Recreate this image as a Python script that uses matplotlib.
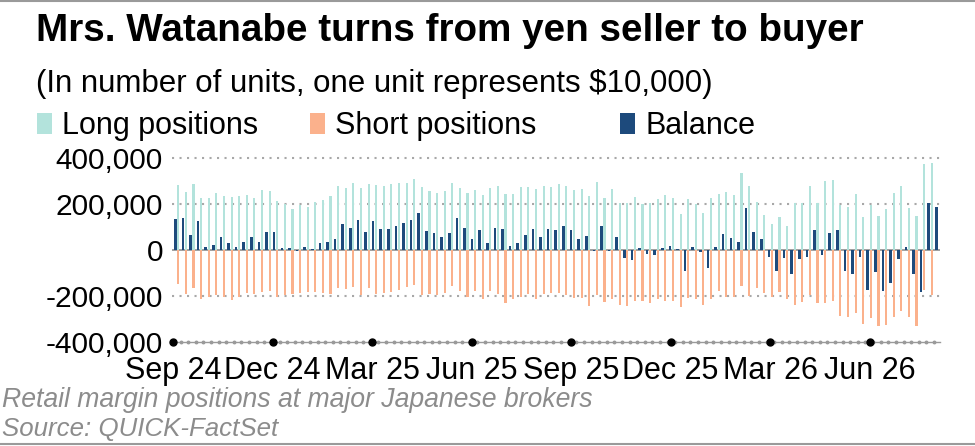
import numpy as np
import matplotlib
matplotlib.use("Agg")
import matplotlib.pyplot as plt
from matplotlib.patches import Rectangle
from matplotlib.lines import Line2D

# ---------- DATA (thousands of units, weekly) ----------
long_k = [280, 284, 252, 288, 225, 228, 249, 233, 229, 236, 239, 225, 261, 255, 213, 200, 178,
          196, 188, 210, 217, 236, 278, 268, 290, 268, 287, 281, 278, 287, 290, 293, 307, 272,
          258, 249, 258, 290, 268, 246, 261, 238, 271, 280, 243, 243, 272, 275, 264, 280, 272,
          287, 277, 259, 267, 235, 297, 224, 267, 203, 203, 229, 200, 206, 223, 238, 225, 155,
          223, 200, 162, 225, 245, 254, 239, 336, 278, 210, 152, 113, 145, 103, 203, 203, 280,
          203, 300, 304, 196, 185, 243, 145, 194, 149, 180, 246, 278, 181, 149, 372, 380]
short_k = [-148, -148, -191, -165, -214, -206, -194, -203, -216, -203, -188, -193, -183, -180, -206, -196, -190,
           -185, -181, -181, -185, -191, -167, -171, -159, -194, -164, -191, -188, -181, -174, -162, -152, -194,
           -191, -197, -188, -155, -177, -206, -178, -212, -177, -191, -229, -214, -206, -191, -212, -193, -186,
           -186, -194, -209, -209, -243, -194, -228, -212, -241, -243, -223, -220, -229, -212, -220, -220, -246,
           -209, -214, -241, -212, -180, -206, -203, -156, -200, -165, -188, -203, -183, -212, -238, -226, -197,
           -229, -229, -220, -287, -290, -275, -322, -294, -329, -326, -290, -267, -290, -330, -174, -197]
balance_k = [135, 141, 64, 125, 13, 23, 58, 29, 13, 36, 55, 35, 80, 78, 9, 7, -6,
             13, 6, 32, 36, 49, 114, 96, 130, 77, 125, 90, 91, 106, 117, 132, 162, 83,
             74, 58, 74, 139, 96, 46, 86, 30, 97, 91, 17, 30, 67, 90, 55, 90, 88,
             104, 85, 49, 62, -5, 106, -3, 58, -36, -43, 7, -17, -23, 10, 19, 6, -90,
             14, -9, -78, 14, 68, 51, 35, 181, 80, 46, -32, -90, -36, -104, -39, -29, 85,
             -23, 75, 85, -90, -104, -29, -174, -96, -177, -142, -41, 14, -104, -181, 203, 185]
tick_labels = ["Sep 24", "Dec 24", "Mar 25", "Jun 25", "Sep 25", "Dec 25", "Mar 26", "Jun 26"]
y_ticks = [-400000, -200000, 0, 200000, 400000]

# ---------- STYLE ----------
W, H, DPI = 975, 446, 100
LONG_C, SHORT_C, BAL_C = "#b3e3dc", "#fbb18c", "#1d4a7c"
GRID_C = "#a8a8a8"
NOTE_C = "#8c8c8c"
TICK_STEP = 13.08  # weeks between quarterly labels

plt.rcParams["font.family"] = ["Liberation Sans", "DejaVu Sans"]


def px(x, y):
    """pixel (from top-left) -> figure fraction"""
    return x / W, 1 - y / H


def main():
    long_v = np.array(long_k) * 1000
    short_v = np.array(short_k) * 1000
    bal_v = np.array(balance_k) * 1000
    x = np.arange(len(long_v))

    fig = plt.figure(figsize=(W / DPI, H / DPI), dpi=DPI)
    ax = fig.add_axes([172 / W, 104 / H, (940 - 172) / W, (288 - 104) / H])

    # grid + zero line
    for yv in (400000, 200000, -200000):
        ax.axhline(yv, color=GRID_C, lw=1.5, ls=(0, (1, 2.6)), zorder=0, clip_on=False)
    ax.axhline(0, color="#8f8f8f", lw=1.2, zorder=1)

    ax.bar(x - 0.3, long_v, width=0.28, color=LONG_C, zorder=2)
    ax.bar(x - 0.3, short_v, width=0.28, color=SHORT_C, zorder=2)
    ax.bar(x + 0.3, bal_v, width=0.34, color=BAL_C, zorder=3)

    # bottom axis with weekly dots and quarterly black dots
    ax.axhline(-400000, color="#9a9a9a", lw=1.0, zorder=1, clip_on=False)
    ax.plot(x, np.full(len(x), -400000), "o", ms=1.8, color="#9a9a9a", clip_on=False, zorder=2)
    ticks = np.arange(len(tick_labels)) * TICK_STEP
    ax.plot(ticks, np.full(len(ticks), -400000), "o", ms=5, color="black", clip_on=False, zorder=4)

    ax.set_xlim(-0.13, -0.13 + 768 / 7.61)
    ax.set_ylim(-400000, 400000)
    ax.set_xticks(ticks)
    ax.set_xticklabels(tick_labels, fontsize=22)
    ax.set_yticks(y_ticks)
    ax.set_yticklabels([f"{v:,}" for v in y_ticks], fontsize=21.5)
    ax.tick_params(axis="both", length=0, colors="black")
    ax.tick_params(axis="y", pad=6.5)
    ax.tick_params(axis="x", pad=10)
    for s in ax.spines.values():
        s.set_visible(False)
    ax.set_facecolor("none")

    # titles
    fig.text(*px(36, 41), "Mrs. Watanabe turns from yen seller to buyer",
             fontsize=27.8, fontweight="bold", va="baseline", ha="left")
    fig.text(*px(36, 92), "(In number of units, one unit represents $10,000)",
             fontsize=22.5, va="baseline", ha="left")

    # legend
    items = [(37, "Long positions", LONG_C), (310, "Short positions", SHORT_C), (620, "Balance", BAL_C)]
    for lx, label, col in items:
        x0, y0 = px(lx, 134)
        fig.patches.append(Rectangle((x0, y0), 15 / W, 21 / H, transform=fig.transFigure,
                                     facecolor=col, edgecolor="none"))
        fig.text(*px(lx + 25, 134), label, fontsize=22, va="baseline", ha="left")

    # notes
    fig.text(*px(2, 407), "Retail margin positions at major Japanese brokers",
             fontsize=19.2, style="italic", color=NOTE_C, va="baseline", ha="left")
    fig.text(*px(2, 436), "Source: QUICK-FactSet",
             fontsize=18.6, style="italic", color=NOTE_C, va="baseline", ha="left")

    # frame lines top and bottom
    fig.lines.append(Line2D([0, 1], [1 - 1 / H, 1 - 1 / H], transform=fig.transFigure, color="#9a9a9a", lw=1.5))
    fig.lines.append(Line2D([0, 1], [2 / H, 2 / H], transform=fig.transFigure, color="#9a9a9a", lw=1.5))

    fig.savefig("out.png", dpi=DPI)
    plt.close(fig)


if __name__ == "__main__":
    main()
